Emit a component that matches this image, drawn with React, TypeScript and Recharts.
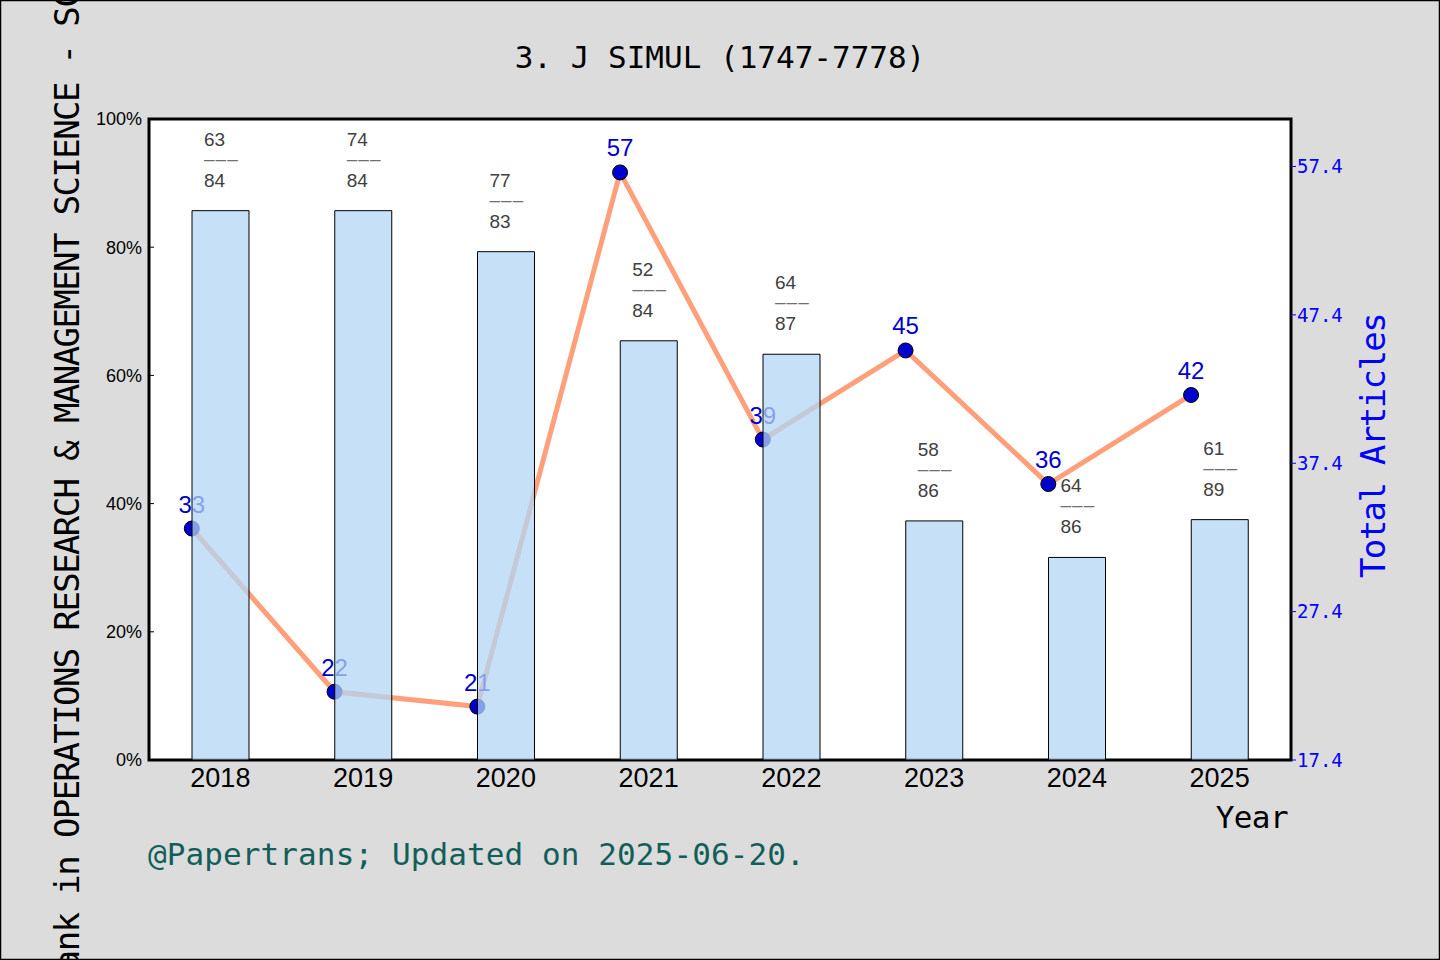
import { ComposedChart, Bar, Line, XAxis, YAxis, CartesianGrid, LabelList } from 'recharts';

const years = ['2018', '2019', '2020', '2021', '2022', '2023', '2024', '2025'];
const rankPct = [85.7, 85.7, 79.3, 65.4, 63.3, 37.3, 31.6, 37.5];
const rankNum = [63, 74, 77, 52, 64, 58, 64, 61];
const rankTotal = [84, 84, 83, 84, 87, 86, 86, 89];
const articles = [33, 22, 21, 57, 39, 45, 36, 42];

const pctTicks = [0, 20, 40, 60, 80, 100];
const countTicks = [17.4, 27.4, 37.4, 47.4, 57.4];
const countDomain = [17.4, 60.6];
const boundaryTicks = [1, 2, 3, 4, 5, 6, 7];

// bar occupies 0.4 of its category band, line points sit on the bar's left edge
const BAR_SHARE = 0.4;

const data = years.map((year, i) => ({
  year,
  pos: i + 0.5 - BAR_SHARE / 2,
  pct: rankPct[i],
  articles: articles[i],
}));

const MONO = '"DejaVu Sans Mono", monospace';
const SANS = '"Liberation Sans", Arial, sans-serif';

// eslint-disable-next-line @typescript-eslint/no-explicit-any
const renderRankLabel = (props: any) => {
  const { x, y, index } = props;
  const tx = x + 12;
  return (
    <g key={`rank-${index}`}>
      <text x={tx} y={y - 65} fontSize={19} fill="#404040" fontFamily={SANS}>{rankNum[index]}</text>
      <text x={tx} y={y - 46} fontSize={19} fill="#707070" fontFamily={SANS} letterSpacing={1}>–––</text>
      <text x={tx} y={y - 24} fontSize={19} fill="#404040" fontFamily={SANS}>{rankTotal[index]}</text>
    </g>
  );
};

// eslint-disable-next-line @typescript-eslint/no-explicit-any
const renderCountLabel = (props: any) => {
  const { x, y, value, index } = props;
  return (
    <text key={`cnt-${index}`} x={x} y={y - 16} textAnchor="middle" fontSize={24} fill="#0000cc" fontFamily={SANS}>
      {value}
    </text>
  );
};

export default function App() {
  return (
    <div style={{ position: 'absolute', left: 0, top: 0, width: 1440, height: 960, background: '#dcdcdc', fontFamily: SANS }}>
      <ComposedChart
        width={1440}
        height={960}
        data={data}
        margin={{ top: 119, right: 89, bottom: 160, left: 89 }}
      >
        <CartesianGrid fill="#ffffff" horizontal={false} vertical={false} xAxisId="cat" yAxisId="pct" />
        <XAxis
          xAxisId="pos"
          type="number"
          dataKey="pos"
          domain={[0, 8]}
          ticks={boundaryTicks}
          height={0}
          axisLine={false}
          tick={false}
          tickSize={-6}
          tickLine={{ stroke: '#000', strokeWidth: 1 }}
        />
        <XAxis
          xAxisId="cat"
          dataKey="year"
          height={40}
          axisLine={false}
          tickLine={false}
          tickSize={0}
          tickMargin={8}
          interval={0}
          tick={{ fontSize: 27, fill: '#000', fontFamily: SANS }}
        />
        <YAxis
          yAxisId="pct"
          orientation="left"
          width={60}
          domain={[0, 100]}
          ticks={pctTicks}
          axisLine={false}
          tickSize={-5}
          tickMargin={12}
          tickLine={{ stroke: '#000', strokeWidth: 1 }}
          tick={{ fontSize: 18, fill: '#000', fontFamily: SANS }}
          tickFormatter={(v) => `${v}%`}
        />
        <YAxis
          yAxisId="cnt"
          orientation="right"
          width={60}
          domain={countDomain}
          ticks={countTicks}
          allowDataOverflow
          axisLine={false}
          tickSize={5}
          tickMargin={1}
          tickLine={{ stroke: '#0000ff', strokeWidth: 1 }}
          tick={{ fontSize: 19, fill: '#0000ff', fontFamily: MONO }}
          tickFormatter={(v) => Number(v).toFixed(1)}
        />
        <Line
          xAxisId="pos"
          yAxisId="cnt"
          dataKey="articles"
          type="linear"
          stroke="#ffa07a"
          strokeWidth={5}
          dot={{ r: 7.5, fill: '#0000cc', stroke: '#000', strokeWidth: 1 }}
          activeDot={false}
          isAnimationActive={false}
          zIndex={400}
        >
          <LabelList dataKey="articles" content={renderCountLabel} />
        </Line>
        <Bar
          xAxisId="cat"
          yAxisId="pct"
          dataKey="pct"
          barSize={57}
          fill="#b1d5f4"
          fillOpacity={0.75}
          stroke="#000"
          strokeWidth={1}
          isAnimationActive={false}
          zIndex={2500}
        >
          <LabelList dataKey="pct" content={renderRankLabel} />
        </Bar>

        <rect x={149} y={119} width={1142} height={641} fill="none" stroke="#000" strokeWidth={3} />
        <rect x={0} y={0} width={1440} height={960} fill="none" stroke="#000" strokeWidth={2.5} />

        <text x={720} y={68} textAnchor="middle" fontSize={31} fill="#000" fontFamily={MONO}>
          3. J SIMUL (1747-7778)
        </text>
        <text x={148} y={865} fontSize={31} letterSpacing={0.1} fill="#125e58" fontFamily={MONO}>
          @Papertrans; Updated on 2025-06-20.
        </text>
        <text x={1288} y={828} textAnchor="end" fontSize={31} letterSpacing={-0.6} fill="#000" fontFamily={MONO}>
          Year
        </text>
        <text
          x={79}
          y={989}
          transform="rotate(-90 79 989)"
          fontSize={34}
          letterSpacing={-1.6}
          fill="#000"
          fontFamily={MONO}
        >
          Rank in OPERATIONS RESEARCH &amp; MANAGEMENT SCIENCE - SCIE
        </text>
        <text
          x={1385}
          y={446}
          transform="rotate(-90 1385 446)"
          textAnchor="middle"
          fontSize={34}
          letterSpacing={-1.6}
          fill="#0000ff"
          fontFamily={MONO}
        >
          Total Articles
        </text>
      </ComposedChart>
    </div>
  );
}
